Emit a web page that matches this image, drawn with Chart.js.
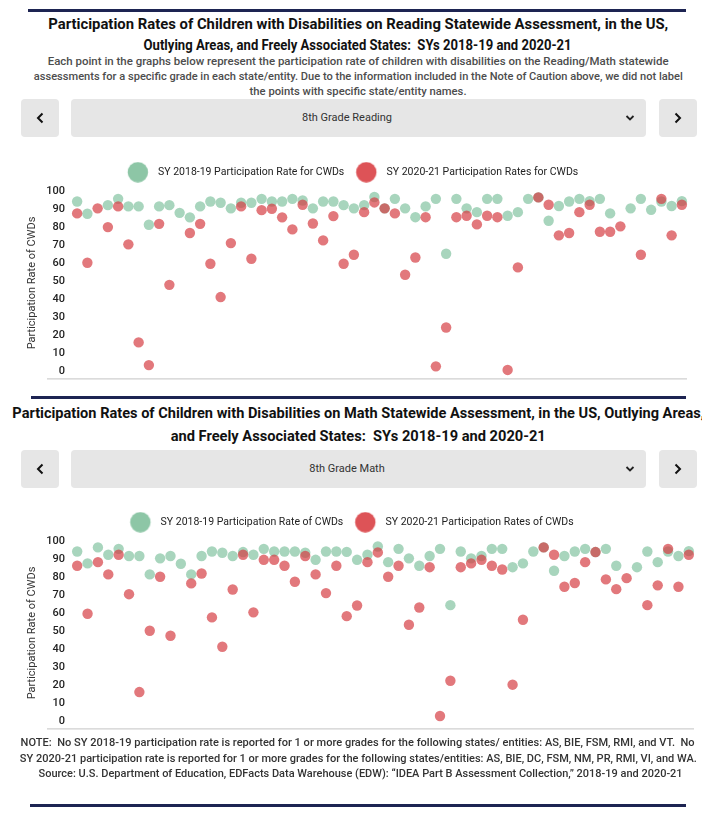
<!DOCTYPE html>
<html>
<head>
<meta charset="utf-8">
<script src="https://cdn.jsdelivr.net/npm/chart.js@4.4.1/dist/chart.umd.min.js"></script>
<style>
html,body{margin:0;padding:0;background:#fff;}
body{width:702px;height:813px;position:relative;overflow:hidden;font-family:Roboto,"Noto Sans",Arial,sans-serif;}
.rule{position:absolute;height:3px;background:#1d2452;}
.ln{position:absolute;left:0;width:716px;text-align:center;white-space:pre;height:20px;line-height:20px;}
.ln span{display:inline-block;transform-origin:50% 50%;}
.title{font-size:15px;font-weight:700;color:#111;}
.sub{font-size:11px;font-weight:500;color:#4d4d4d;}
.note{font-size:11px;font-weight:500;color:#333;}
.box{position:absolute;background:#e6e6e6;border-radius:4px;}
.box svg{position:absolute;}
.sel{font-size:11px;color:#333;position:absolute;left:0;right:0;text-align:center;line-height:38px;padding-right:23px;}
canvas{position:absolute;left:0;}
</style>
</head>
<body>
<div class="rule" style="left:28px;top:9px;width:658px;"></div>

<div class="ln title" style="top:14px;"><span data-w="620">Participation Rates of Children with Disabilities on Reading Statewide Assessment, in the US,</span></div>
<div class="ln title" style="top:35px;"><span data-w="428">Outlying Areas, and Freely Associated States:  SYs 2018-19 and 2020-21</span></div>
<div class="ln sub" style="top:51.5px;"><span data-w="621">Each point in the graphs below represent the participation rate of children with disabilities on the Reading/Math statewide</span></div>
<div class="ln sub" style="top:67px;"><span data-w="649">assessments for a specific grade in each state/entity. Due to the information included in the Note of Caution above, we did not label</span></div>
<div class="ln sub" style="top:82px;"><span data-w="217">the points with specific state/entity names.</span></div>

<div class="box" style="left:21px;top:99px;width:38px;height:38px;"><svg width="38" height="38"><polyline points="21.5,14.5 17,19 21.5,23.5" fill="none" stroke="#111" stroke-width="2"/></svg></div>
<div class="box" style="left:71px;top:99px;width:575px;height:38px;"><div class="sel">8th Grade Reading</div><svg width="575" height="38"><polyline points="555.5,17 559,20.5 562.5,17" fill="none" stroke="#222" stroke-width="1.8"/></svg></div>
<div class="box" style="left:659px;top:99px;width:38px;height:38px;"><svg width="38" height="38"><polyline points="16.5,14.5 21,19 16.5,23.5" fill="none" stroke="#111" stroke-width="2"/></svg></div>

<canvas id="readChart" width="702" height="232" style="top:160px;width:702px;height:232px;"></canvas>

<div class="rule" style="left:31px;top:396px;width:655px;"></div>

<div class="ln title" style="top:403px;"><span data-w="692">Participation Rates of Children with Disabilities on Math Statewide Assessment, in the US, Outlying Areas,</span></div>
<div class="ln title" style="top:426px;"><span data-w="375">and Freely Associated States:  SYs 2018-19 and 2020-21</span></div>

<div class="box" style="left:21px;top:450px;width:38px;height:38px;"><svg width="38" height="38"><polyline points="21.5,14.5 17,19 21.5,23.5" fill="none" stroke="#111" stroke-width="2"/></svg></div>
<div class="box" style="left:71px;top:450px;width:575px;height:38px;"><div class="sel">8th Grade Math</div><svg width="575" height="38"><polyline points="555.5,17 559,20.5 562.5,17" fill="none" stroke="#222" stroke-width="1.8"/></svg></div>
<div class="box" style="left:659px;top:450px;width:38px;height:38px;"><svg width="38" height="38"><polyline points="16.5,14.5 21,19 16.5,23.5" fill="none" stroke="#111" stroke-width="2"/></svg></div>

<canvas id="mathChart" width="702" height="232" style="top:510px;width:702px;height:232px;"></canvas>

<div class="ln note" style="top:733px;"><span data-w="674">NOTE:  No SY 2018-19 participation rate is reported for 1 or more grades for the following states/ entities: AS, BIE, FSM, RMI, and VT.  No</span></div>
<div class="ln note" style="top:749px;"><span data-w="677">SY 2020-21 participation rate is reported for 1 or more grades for the following states/entities: AS, BIE, DC, FSM, NM, PR, RMI, VI, and WA.</span></div>
<div class="ln note" style="top:764px;left:3px;"><span data-w="644">Source: U.S. Department of Education, EDFacts Data Warehouse (EDW): “IDEA Part B Assessment Collection,” 2018-19 and 2020-21</span></div>

<div class="rule" style="left:30px;top:804px;width:656px;"></div>

<script>
// ---- categories (60 states/entities, names intentionally not labelled) ----
const entities = ['1','2','3','4','5','6','7','8','9','10','11','12','13','14','15','16','17','18','19','20',
  '21','22','23','24','25','26','27','28','29','30','31','32','33','34','35','36','37','38','39','40',
  '41','42','43','44','45','46','47','48','49','50','51','52','53','54','55','56','57','58','59','60'];

// ---- y-axis tick labels ----
const yTicks = [0,10,20,30,40,50,60,70,80,90,100];

// ---- 8th Grade Reading ----
const reading2019 = [94.4,87.6,null,92.4,95.9,91.7,91.7,81.5,91.7,92.4,
  88.1,85.6,91.7,94.4,93.7,90.6,93.7,93.7,95.9,94.4,
  94.4,95.9,95.0,90.6,94.4,94.4,92.4,90.6,92.4,96.9,
  90.6,95.9,90.6,85.7,91.7,95.9,65.4,95.9,90.6,88.5,
  95.9,95.9,86.5,88.5,95.9,96.7,83.7,91.9,94.4,95.9,
  94.6,95.9,87.8,null,90.6,95.9,89.8,94.4,91.9,94.6];
const reading2021 = [87.8,60.4,90.6,80.2,91.7,70.6,16.1,3.5,82.0,48.1,
  null,76.9,82.0,59.8,41.3,71.3,91.7,62.6,89.6,90.4,
  85.6,78.9,92.6,82.2,72.8,86.3,59.8,64.8,88.5,93.9,
  90.6,87.8,53.7,63.3,85.7,2.8,24.4,85.7,86.5,81.7,
  86.5,85.7,0.8,57.8,null,96.7,92.6,75.6,76.9,88.5,
  92.6,77.6,77.6,80.6,null,64.8,null,95.9,75.6,92.6];

// ---- 8th Grade Math ----
const math2019 = [94.4,87.8,96.7,92.6,95.9,91.9,91.9,81.7,90.6,91.9,
  87.6,81.7,91.9,94.4,93.7,91.9,94.1,92.6,95.9,94.4,
  94.4,94.4,93.7,89.8,94.4,94.4,94.2,89.8,92.6,97.2,
  88.5,95.9,90.6,86.5,91.9,95.9,64.6,94.4,90.6,91.9,
  95.9,95.9,85.7,87.8,94.4,96.7,83.7,91.9,94.4,95.9,
  94.1,95.9,86.5,null,85.7,94.4,88.5,94.4,91.9,94.6];
const math2021 = [86.5,59.8,88.5,81.7,92.6,70.7,16.3,50.4,80.4,47.6,
  null,76.7,82.2,57.8,41.5,73.3,92.6,60.6,89.8,89.8,
  86.5,77.6,91.9,81.7,71.3,86.5,58.5,64.4,88.5,93.9,
  80.4,86.5,53.7,63.3,85.7,3.0,22.6,85.7,87.8,89.8,
  86.5,84.4,20.4,56.5,null,96.7,92.6,74.8,76.9,88.5,
  94.1,78.9,73.5,79.6,null,64.6,75.6,95.9,74.8,92.6];

const GREEN_PT = 'rgba(110,185,145,0.6)';
const RED_PT = 'rgba(214,62,68,0.7)';
const GREEN_LEG = 'rgb(141,198,166)';
const RED_LEG = 'rgb(221,83,87)';

function legendDot(color){
  const c = document.createElement('canvas');
  c.width = 30; c.height = 21;
  const x = c.getContext('2d');
  x.fillStyle = color;
  x.beginPath(); x.arc(15, 10.5, 10.2, 0, Math.PI*2); x.fill();
  return c;
}

const axisExt = {
  id: 'axisExt',
  afterDraw(chart, args, opts){
    const {ctx, chartArea} = chart;
    ctx.save();
    ctx.strokeStyle = '#cfcfcf';
    ctx.lineWidth = 1.2;
    ctx.beginPath();
    ctx.moveTo(opts.from, chartArea.bottom + 0.5);
    ctx.lineTo(chartArea.right, chartArea.bottom + 0.5);
    ctx.stroke();
    ctx.restore();
  }
};

function makeChart(id, s2019, s2021, lab2019, lab2021, padLeft, padRight, titlePad){
  const dots = [legendDot(GREEN_LEG), legendDot(RED_LEG)];
  return new Chart(document.getElementById(id), {
    type: 'line',
    data: {
      labels: entities,
      datasets: [
        {label: lab2019, data: s2019, showLine: false, pointRadius: 5.2, pointHoverRadius: 5.2,
         pointBackgroundColor: GREEN_PT, pointBorderWidth: 0, borderColor: GREEN_PT, backgroundColor: GREEN_PT, order: 1},
        {label: lab2021, data: s2021, showLine: false, pointRadius: 5.2, pointHoverRadius: 5.2,
         pointBackgroundColor: RED_PT, pointBorderWidth: 0, borderColor: RED_PT, backgroundColor: RED_PT, order: 0}
      ]
    },
    options: {
      responsive: false,
      animation: false,
      events: [],
      layout: {padding: {left: padLeft, right: padRight, top: 0, bottom: 0}},
      plugins: {
        tooltip: {enabled: false},
        axisExt: {from: 47},
        legend: {
          display: true,
          position: 'top',
          align: 'center',
          labels: {
            usePointStyle: true,
            pointStyleWidth: 30,
            padding: 7,
            color: '#222',
            font: {family: 'Roboto', size: 10.5},
            generateLabels(chart){
              return chart.data.datasets.map((ds, i) => ({
                text: ds.label, fillStyle: i ? RED_LEG : GREEN_LEG, strokeStyle: 'rgba(0,0,0,0)',
                lineWidth: 0, pointStyle: dots[i], datasetIndex: i, hidden: false, fontColor: '#222'
              }));
            }
          }
        }
      },
      scales: {
        x: {
          type: 'category',
          offset: true,
          grid: {display: false, drawTicks: false},
          ticks: {display: false},
          border: {display: false},
          afterFit(scale){ scale.height = 11; }
        },
        y: {
          min: -3.9,
          max: 102.2,
          grid: {display: false, drawTicks: false},
          border: {display: false},
          afterBuildTicks(scale){ scale.ticks = yTicks.map(v => ({value: v})); },
          afterFit(scale){ scale.width = 72 - padLeft; },
          ticks: {
            padding: 7,
            color: '#222',
            font: {family: 'Roboto', size: 11, weight: '500'},
            callback(v){ return String(v); }
          },
          title: {
            display: true,
            text: 'Participation Rate of CWDs',
            color: '#333',
            padding: {top: titlePad, bottom: 0},
            font: {family: 'Roboto', size: 11}
          }
        }
      }
    },
    plugins: [axisExt]
  });
}

function fitLines(){
  document.querySelectorAll('.ln span').forEach(s => {
    s.style.transform = 'none';
    const w = s.getBoundingClientRect().width;
    const t = +s.dataset.w;
    if (w > 0) s.style.transform = 'scaleX(' + (t / w).toFixed(4) + ')';
  });
}
fitLines();

makeChart('readChart', reading2019, reading2021,
  'SY 2018-19 Participation Rate for CWDs', 'SY 2020-21 Participation Rates for CWDs', 14, 15, 12);
makeChart('mathChart', math2019, math2021,
  'SY 2018-19 Participation Rate of CWDs', 'SY 2020-21 Participation Rates of CWDs', 5, 8, 21);

if (document.fonts && document.fonts.ready) document.fonts.ready.then(fitLines);
</script>
</body>
</html>
